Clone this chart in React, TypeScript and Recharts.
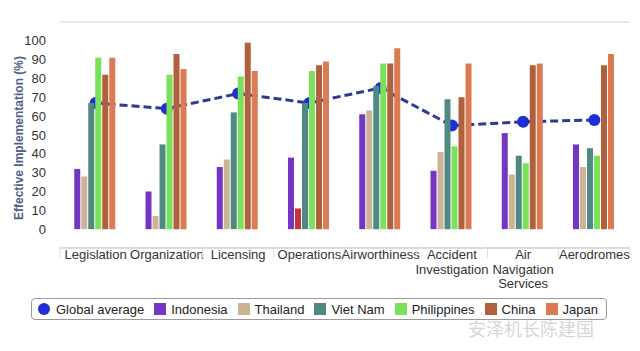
import {
  ComposedChart,
  Bar,
  Line,
  Cell,
  XAxis,
  YAxis,
  CartesianGrid,
  Legend,
  Text,
} from "recharts";

const categories = [
  "Legislation",
  "Organization",
  "Licensing",
  "Operations",
  "Airworthiness",
  "Accident Investigation",
  "Air Navigation Services",
  "Aerodromes",
];

const globalAverage = [67, 64, 72, 67, 75, 55, 57, 58];
const indonesia = [32, 20, 33, 38, 61, 31, 51, 45];
const thailand = [28, 7, 37, 11, 63, 41, 29, 33];
const vietNam = [67, 45, 62, 67, 76, 69, 39, 43];
const philippines = [91, 82, 81, 84, 88, 44, 35, 39];
const china = [82, 93, 99, 87, 88, 70, 87, 87];
const japan = [91, 85, 84, 89, 96, 88, 88, 93];

const yTicks = [0, 10, 20, 30, 40, 50, 60, 70, 80, 90, 100, 110];

const series = [
  { key: "indonesia", name: "Indonesia", color: "#7335c2" },
  { key: "thailand", name: "Thailand", color: "#cdb396" },
  { key: "vietNam", name: "Viet Nam", color: "#4e8a82" },
  { key: "philippines", name: "Philippines", color: "#7be05a" },
  { key: "china", name: "China", color: "#b0603c" },
  { key: "japan", name: "Japan", color: "#dc7a53" },
];

const data = categories.map((name, i) => ({
  name,
  globalAverage: globalAverage[i],
  indonesia: indonesia[i],
  thailand: thailand[i],
  vietNam: vietNam[i],
  philippines: philippines[i],
  china: china[i],
  japan: japan[i],
}));

const FONT = "'Liberation Sans', Arial, sans-serif";
const BAND = 570 / categories.length;
const W = 640;
const H = 351;
const MARGIN = { top: 22, right: 10, bottom: 58, left: 0 };

const CategoryTick = (props: any) => {
  const { x, y, payload, index } = props;
  const top = y - 2;
  return (
    <g>
      <line x1={x - BAND / 2} x2={x - BAND / 2} y1={top - 2} y2={top + 10} stroke="#ddd" />
      {index === categories.length - 1 && (
        <line x1={x + BAND / 2} x2={x + BAND / 2} y1={top - 2} y2={top + 10} stroke="#ddd" />
      )}
      <Text
        x={x}
        y={y}
        width={72}
        textAnchor="middle"
        verticalAnchor="start"
        lineHeight={14.5}
        fontSize={13}
        fill="#333"
        fontFamily={FONT}
      >
        {payload.value}
      </Text>
    </g>
  );
};

const LegendBox = () => (
  <div
    style={{
      display: "flex",
      alignItems: "center",
      border: "1px solid #9a9a9a",
      borderRadius: 4,
      height: 22,
      padding: "0 6px",
      fontFamily: FONT,
      fontSize: 13,
      color: "#222",
      whiteSpace: "nowrap",
      boxSizing: "border-box",
    }}
  >
    <span style={{ display: "inline-block", width: 12, height: 12, borderRadius: 6, background: "#1f2fd1", marginRight: 6 }} />
    <span style={{ marginRight: 10 }}>Global average</span>
    {series.map((s, i) => (
      <span
        key={s.key}
        style={{ display: "inline-flex", alignItems: "center", marginRight: i === series.length - 1 ? 2 : 10 }}
      >
        <span style={{ display: "inline-block", width: 12, height: 12, background: s.color, marginRight: 5 }} />
        {s.name}
      </span>
    ))}
  </div>
);

export default function App() {
  return (
    <div style={{ position: "relative", width: W, height: H, background: "#fff" }}>
      <style>{"body{margin:0}"}</style>
      {/* back layer: grid and the global average line, so the bars sit on top */}
      <div style={{ position: "absolute", left: 0, top: 0 }}>
        <ComposedChart width={W} height={H} data={data} margin={MARGIN}>
          <CartesianGrid vertical={false} stroke="#d4d4d4" />
          <XAxis dataKey="name" scale="band" height={45} axisLine={false} tickLine={false} tick={false} />
          <YAxis width={60} domain={[-10, 110]} ticks={yTicks} axisLine={false} tickLine={false} tick={false} />
          <Line
            dataKey="globalAverage"
            name="Global average"
            stroke="#2c3b8f"
            strokeWidth={3}
            strokeDasharray="8 4"
            dot={{ r: 6, fill: "#1f2fd1", stroke: "#1f2fd1", strokeWidth: 0 }}
            isAnimationActive={false}
          />
        </ComposedChart>
      </div>
      <div style={{ position: "absolute", left: 0, top: 0 }}>
        <ComposedChart width={W} height={H} data={data} margin={MARGIN} barCategoryGap="20%" barGap={1}>
          <XAxis
            dataKey="name"
            height={45}
            axisLine={{ stroke: "#cfcfcf" }}
            tickLine={false}
            tickSize={0}
            tickMargin={2}
            interval={0}
            tick={<CategoryTick />}
          />
          <YAxis
            width={60}
            domain={[-10, 110]}
            ticks={yTicks}
            interval={0}
            tickFormatter={(v: number) => (v === 110 ? "" : String(v))}
            axisLine={false}
            tickLine={false}
            tickMargin={8}
            tick={{ fontSize: 13, fill: "#333", fontFamily: FONT }}
            label={{
              content: () => (
                <text
                  x={19}
                  y={138}
                  transform="rotate(-90 19 138)"
                  textAnchor="middle"
                  dominantBaseline="central"
                  fontSize={12}
                  fontWeight="bold"
                  fill="#4f5f88"
                  fontFamily={FONT}
                >
                  Effective Implementation (%)
                </text>
              ),
            }}
          />
          {series.map((s) => (
            <Bar key={s.key} dataKey={s.key} name={s.name} fill={s.color} isAnimationActive={false}>
              {s.key === "thailand" &&
                data.map((d, i) => <Cell key={i} fill={d.name === "Operations" ? "#c8323a" : s.color} />)}
            </Bar>
          ))}
          <Legend
            layout="horizontal"
            verticalAlign="middle"
            align="center"
            wrapperStyle={{ left: 31, top: 298, width: "auto" }}
            content={<LegendBox />}
          />
        </ComposedChart>
      </div>
      <div
        style={{
          position: "absolute",
          left: 468,
          top: 318,
          fontFamily: "'Noto Sans CJK SC', sans-serif",
          fontSize: 18,
          lineHeight: "20px",
          color: "rgba(160,160,160,0.45)",
          pointerEvents: "none",
        }}
      >
        安泽机长陈建国
      </div>
    </div>
  );
}
